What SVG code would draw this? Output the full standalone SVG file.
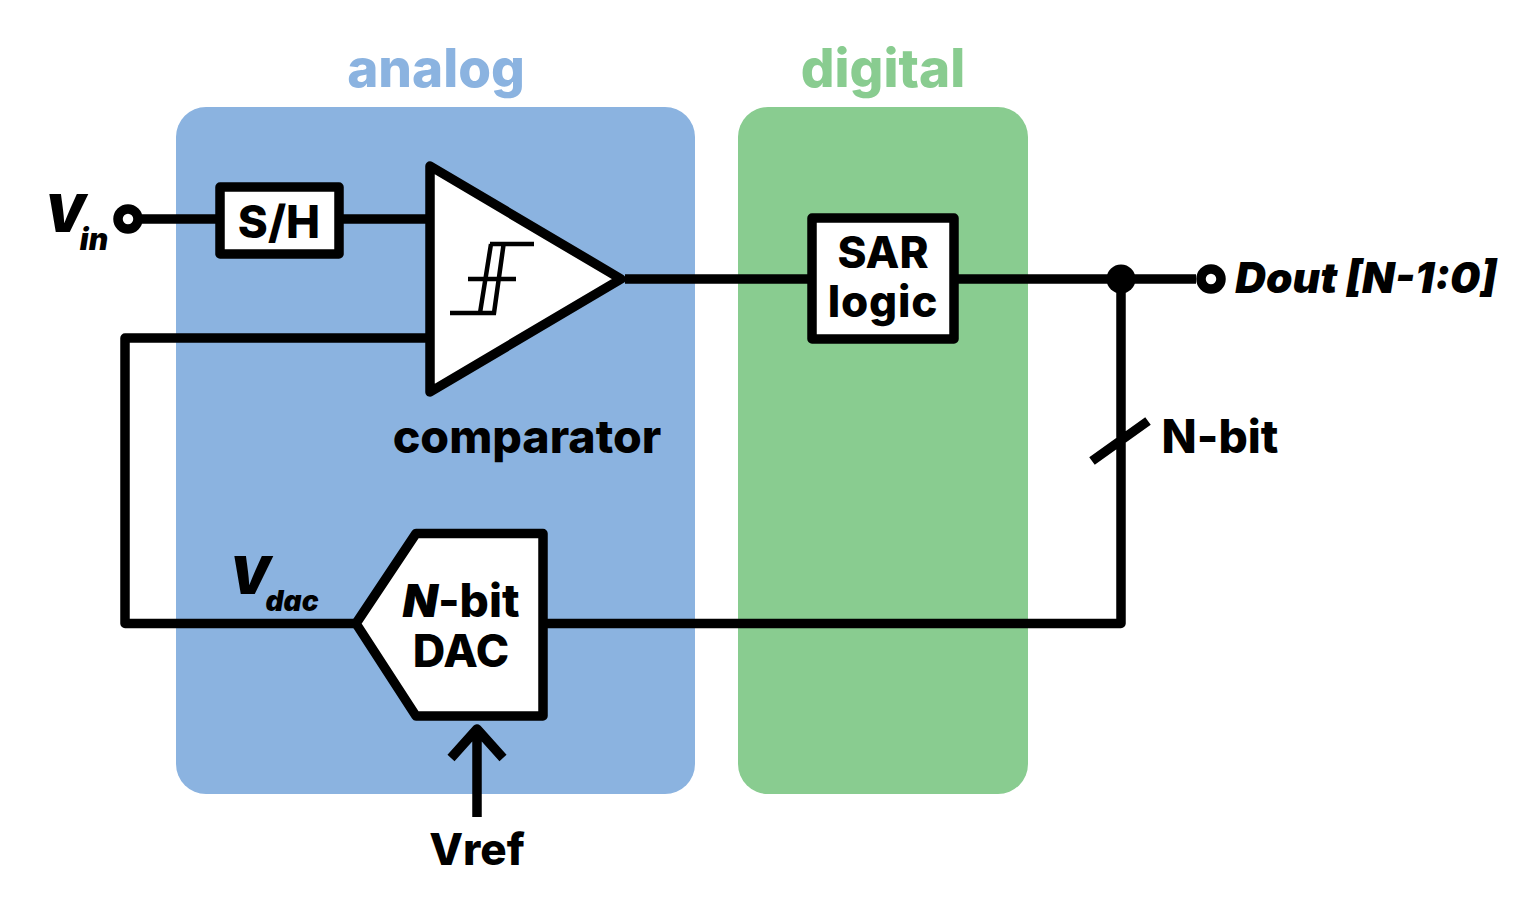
<svg xmlns="http://www.w3.org/2000/svg" width="1536" height="912" viewBox="0 0 1536 912">
<style>
text{font-family:"Inter","Open Sans",sans-serif;font-weight:800;fill:#000;text-anchor:middle}
.i{font-style:italic;font-weight:900}
.w{fill:none;stroke:#000;stroke-width:9.500;stroke-linejoin:round}
.s{fill:#fff;stroke:#000;stroke-width:9.500;stroke-linejoin:round}
.h{fill:none;stroke:#000;stroke-width:4.500}
</style>
<rect width="1536" height="912" fill="#fff"/>
<g id="analog"><rect x="176" y="107" width="519" height="687" rx="30" fill="#8bb3e0"/><text x="436" y="87" font-size="53" style="fill:#8bb3e0">analog</text></g>
<g id="digital"><rect x="738" y="107" width="290" height="687" rx="30" fill="#89cc90"/><text x="883" y="87" font-size="53" style="fill:#89cc90">digital</text></g>
<g id="connectors">
<path class="w" d="M142 219H220M339 219H430M625 279H812M954 279H1196M430 338H125V623.500H356M543 623.500H1121V279M477 817V729M451 758L477 729L503 758M1092 461L1148 421"/>
</g>
<g id="vin"><circle class="s" cx="128" cy="219" r="10"/><text x="65" y="232" font-size="52" class="i">V<tspan x="94" y="250" font-size="30">in</tspan></text></g>
<g id="sh"><rect class="s" x="220" y="187" width="119" height="67"/><text x="279" y="238" font-size="45.500">S/H</text></g>
<g id="comparator"><path class="s" d="M430 166L621 279L430 392Z"/><path class="h" d="M450 313H494L503.500 245M491 244L480 313M490 244H534M468 279H516"/><text x="527" y="453" font-size="46.500">comparator</text></g>
<g id="sar"><rect class="s" x="812" y="218" width="142" height="121"/><text x="883" y="268" font-size="44">SAR<tspan x="883" dy="49" letter-spacing="0.800">logic</tspan></text></g>
<g id="dac"><path class="s" d="M356 623.500L416 533.500H543V716H416Z"/><text x="461" y="617" font-size="46"><tspan class="i">N</tspan>-bit<tspan x="461" dy="50" font-size="45">DAC</tspan></text></g>
<g id="vdac"><text x="250" y="594" font-size="52" class="i">V<tspan x="292" y="611" font-size="28">dac</tspan></text></g>
<g id="dout"><circle class="s" cx="1211" cy="279" r="10"/><circle cx="1121" cy="279" r="14.500"/><text x="1366" y="293" font-size="42.500" class="i">Dout [N-1:0]</text></g>
<g id="nbit"><text x="1220" y="453" font-size="46">N-bit</text></g>
<g id="vref"><text x="477" y="865" font-size="44">Vref</text></g>
</svg>
